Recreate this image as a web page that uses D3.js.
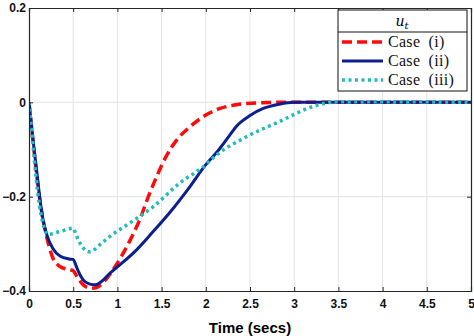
<!DOCTYPE html>
<html>
<head>
<meta charset="utf-8">
<script src="https://cdn.jsdelivr.net/npm/d3@7"></script>
<style>
  body { margin: 0; background: #fff; }
  svg { display: block; }
  .tick text { font-family: "Liberation Sans", Arial, sans-serif; font-weight: bold; font-size: 12px; fill: #111; }
</style>
</head>
<body>
<div id="chart"></div>
<script>
// time (secs) and u_t for each case
var timeI  = [0, 0.05, 0.1, 0.15, 0.2, 0.27, 0.35, 0.46, 0.5, 0.55, 0.62, 0.7, 0.76, 0.85, 0.95, 1.05, 1.15, 1.25, 1.35, 1.45, 1.55, 1.67, 1.82, 2.0, 2.16, 2.35, 2.6, 2.8, 5];
var caseI  = [0, -0.09, -0.175, -0.24, -0.285, -0.33, -0.348, -0.355, -0.357, -0.372, -0.388, -0.394, -0.393, -0.38, -0.355, -0.325, -0.29, -0.25, -0.2, -0.155, -0.115, -0.08, -0.052, -0.027, -0.013, -0.005, -0.001, 0, 0];

var timeII = [0, 0.05, 0.09, 0.125, 0.16, 0.2, 0.27, 0.35, 0.45, 0.5, 0.53, 0.56, 0.61, 0.68, 0.75, 0.82, 0.9, 1.0, 1.2, 1.4, 1.6, 1.8, 2.0, 2.15, 2.25, 2.35, 2.5, 2.65, 2.83, 3.0, 5];
var caseII = [0, -0.087, -0.15, -0.207, -0.25, -0.28, -0.31, -0.326, -0.332, -0.333, -0.345, -0.359, -0.376, -0.385, -0.387, -0.38, -0.365, -0.349, -0.316, -0.275, -0.232, -0.184, -0.132, -0.1, -0.075, -0.05, -0.028, -0.013, -0.004, 0, 0];

var timeIII = [0, 0.04, 0.08, 0.12, 0.17, 0.21, 0.35, 0.5, 0.53, 0.575, 0.63, 0.69, 0.8, 0.91, 1.14, 1.4, 1.7, 2.0, 2.08, 2.46, 2.83, 3.21, 3.47, 4.0, 5];
var caseIII = [0, -0.08, -0.16, -0.22, -0.265, -0.28, -0.274, -0.267, -0.28, -0.298, -0.312, -0.317, -0.302, -0.285, -0.256, -0.222, -0.172, -0.132, -0.118, -0.073, -0.041, -0.009, 0.001, 0.0015, 0];

var xTicks = [0, 0.5, 1, 1.5, 2, 2.5, 3, 3.5, 4, 4.5, 5];
var yTicks = [-0.4, -0.2, 0, 0.2];
var legendNames = ["Case (i)", "Case (ii)", "Case (iii)"];

var width = 474, height = 336;
var margin = {top: 8, right: 3, bottom: 45, left: 29};

var svg = d3.select("#chart").append("svg")
  .attr("width", width)
  .attr("height", height);

var x = d3.scaleLinear().domain([0, 5]).range([margin.left, width - margin.right]);
var y = d3.scaleLinear().domain([-0.4, 0.2]).range([height - margin.bottom, margin.top]);

// grid
svg.append("g").selectAll("line")
  .data(xTicks.slice(1, -1))
  .enter().append("line")
  .attr("x1", function(d) { return x(d); })
  .attr("x2", function(d) { return x(d); })
  .attr("y1", y(-0.4)).attr("y2", y(0.2))
  .attr("stroke", "#e3e3e3").attr("stroke-width", 1);
svg.append("g").selectAll("line")
  .data(yTicks.slice(1, -1))
  .enter().append("line")
  .attr("y1", function(d) { return y(d); })
  .attr("y2", function(d) { return y(d); })
  .attr("x1", x(0)).attr("x2", x(5))
  .attr("stroke", "#e3e3e3").attr("stroke-width", 1);

// series
var series = [
  {t: timeI, v: caseI, color: "#ff0a0a", dash: "10,5", w: 3.5},
  {t: timeII, v: caseII, color: "#0b1f8f", dash: null, w: 3},
  {t: timeIII, v: caseIII, color: "#22bcbc", dash: "3,3.5", w: 3.5}
];

var line = d3.line()
  .x(function(d) { return x(d[0]); })
  .y(function(d) { return y(d[1]); })
  .curve(d3.curveMonotoneX);

svg.append("defs").append("clipPath").attr("id", "clip")
  .append("rect")
  .attr("x", x(0)).attr("y", y(0.2) - 2)
  .attr("width", x(5) - x(0)).attr("height", y(-0.4) - y(0.2) + 2);

var plot = svg.append("g").attr("clip-path", "url(#clip)");
series.forEach(function(s) {
  plot.append("path")
    .datum(d3.zip(s.t, s.v))
    .attr("fill", "none")
    .attr("stroke", s.color)
    .attr("stroke-width", s.w)
    .attr("stroke-dasharray", s.dash)
    .attr("d", line);
});

// axes (box with inner ticks, MATLAB style)
var axBottom = svg.append("g")
  .attr("transform", "translate(0," + y(-0.4) + ")")
  .call(d3.axisBottom(x).tickValues(xTicks).tickSize(-4).tickPadding(8).tickFormat(d3.format("")));
var axLeft = svg.append("g")
  .attr("transform", "translate(" + x(0) + ",0)")
  .call(d3.axisLeft(y).tickValues(yTicks).tickSize(-4).tickPadding(3).tickFormat(d3.format("")));
var axTop = svg.append("g")
  .attr("transform", "translate(0," + y(0.2) + ")")
  .call(d3.axisTop(x).tickValues(xTicks).tickSize(-4).tickFormat(""));
var axRight = svg.append("g")
  .attr("transform", "translate(" + x(5) + ",0)")
  .call(d3.axisRight(y).tickValues(yTicks).tickSize(-4).tickFormat(""));

[axBottom, axLeft, axTop, axRight].forEach(function(a) {
  a.selectAll("path").attr("stroke", "#262626").attr("stroke-width", 1.2);
  a.selectAll("line").attr("stroke", "#262626");
});

// x label
svg.append("text")
  .attr("x", (x(0) + x(5)) / 2)
  .attr("y", 333)
  .attr("text-anchor", "middle")
  .style("font-family", "'Liberation Sans', Arial, sans-serif")
  .style("font-weight", "bold")
  .style("font-size", "15px")
  .text("Time (secs)");

// legend
var lg = svg.append("g").attr("transform", "translate(338,10)");
lg.append("rect")
  .attr("width", 129).attr("height", 81)
  .attr("fill", "#fff").attr("stroke", "#111").attr("stroke-width", 1);
lg.append("line")
  .attr("x1", 0).attr("x2", 129).attr("y1", 22).attr("y2", 22)
  .attr("stroke", "#111").attr("stroke-width", 1);
var title = lg.append("text")
  .attr("x", 64).attr("y", 16)
  .attr("text-anchor", "middle")
  .style("font-family", "'DejaVu Serif', 'Liberation Serif', serif")
  .style("font-style", "italic")
  .style("font-size", "14px");
title.append("tspan").text("u");
title.append("tspan").attr("dy", 3).style("font-size", "10px").text("t");

var entry = lg.selectAll("g.entry")
  .data(series)
  .enter().append("g")
  .attr("class", "entry")
  .attr("transform", function(d, i) { return "translate(0," + (32 + i * 19) + ")"; });
entry.append("line")
  .attr("x1", 4).attr("x2", 45)
  .attr("stroke", function(d) { return d.color; })
  .attr("stroke-width", function(d) { return d.w; })
  .attr("stroke-dasharray", function(d) { return d.dash; });
entry.append("text")
  .attr("x", 50).attr("y", 5)
  .style("font-family", "'Liberation Serif', 'DejaVu Serif', serif")
  .style("font-size", "16px")
  .style("word-spacing", "4px")
  .style("letter-spacing", "0.3px")
  .style("fill", "#111")
  .text(function(d, i) { return legendNames[i]; });
</script>
</body>
</html>
